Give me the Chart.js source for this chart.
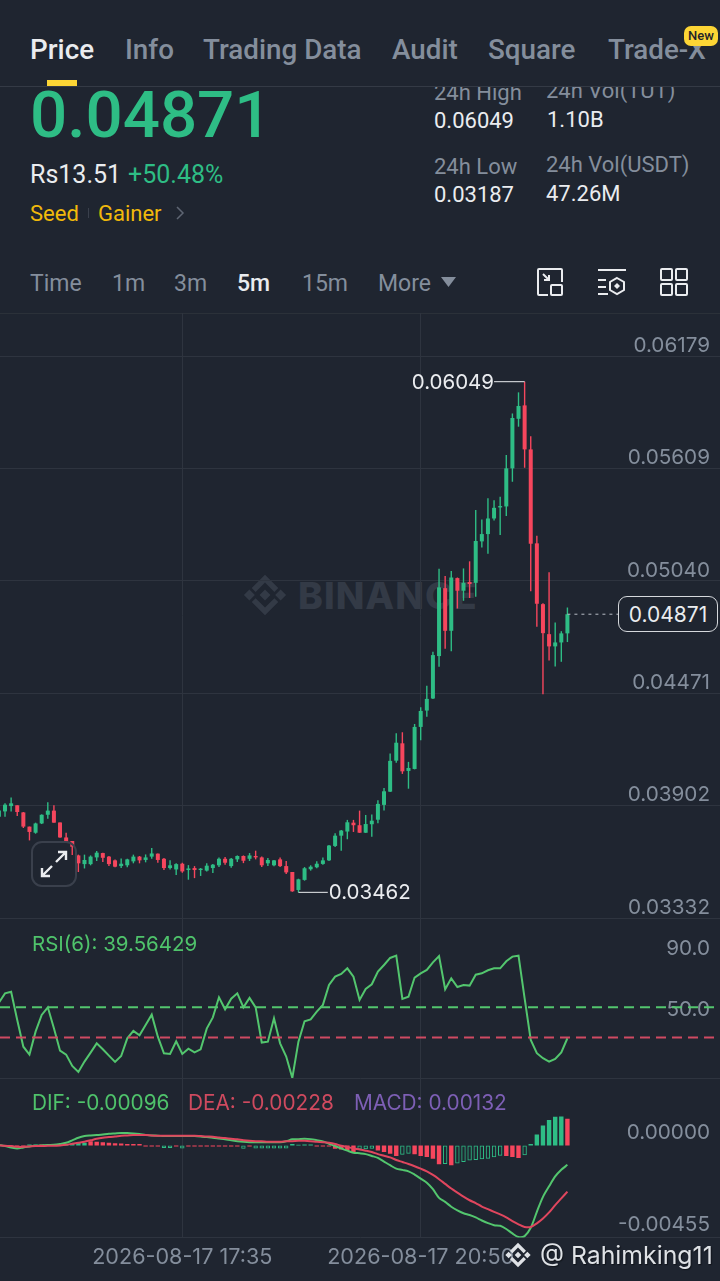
<!DOCTYPE html>
<html>
<head>
<meta charset="utf-8">
<title>TUT/USDT 5m</title>
<script src="https://cdn.jsdelivr.net/npm/chart.js@4/dist/chart.umd.min.js"></script>
<style>
  html, body { margin: 0; padding: 0; background: #1f2530; }
  body { position: relative; width: 720px; height: 1281px; overflow: hidden; font-family: Roboto, sans-serif; }
  canvas { position: absolute; left: 0; display: block; }
  .t { position: absolute; white-space: nowrap; line-height: 1; transform: translateY(-50%); }
  .abs { position: absolute; }
  .gray { color: #848e9c; }
  .white { color: #eaecef; }
  .up { color: #2ebd85; }
  .gold { color: #f0b90b; }
  .inter { font-family: Inter, sans-serif; }
  #topbar { position: absolute; left: 0; top: 0; width: 720px; height: 86px; background: #1f2530; border-bottom: 1px solid #343a45; z-index: 3; }
  #topbar .t { font-size: 27.8px; font-weight: 500; }
  .stat { font-size: 22px; }
  .tf { font-size: 23px; }
  #pill { position: absolute; left: 618px; top: 596px; width: 100px; height: 36px; box-sizing: border-box; border: 1px solid #d5d8dc; border-radius: 9px; background: #1f2530; color: #eaecef; font: 21px Inter, sans-serif; line-height: 35px; text-align: center; z-index: 4; }
  #mark { position: absolute; left: 240px; top: 570px; height: 50px; }
  #markText { position: absolute; left: 298px; top: 595px; font: 800 37.5px Inter, sans-serif; letter-spacing: 1px; color: #333a46; }
  #expand { position: absolute; left: 31px; top: 841px; width: 46px; height: 46px; box-sizing: border-box; border: 2px solid #3a404c; border-radius: 11px; z-index: 4; }
  #credit { position: absolute; left: 540px; top: 1255px; font: 24.8px Inter, sans-serif; color: #dfe2e6; text-shadow: 1px 1px 1px #10141a; transform: translateY(-50%); line-height: 1; z-index: 4; white-space: nowrap; }
</style>
</head>
<body>

<div id="topbar">
  <span class="t white" style="left:30px;top:50px">Price</span>
  <span class="t gray" style="left:125px;top:50px">Info</span>
  <span class="t gray" style="left:203px;top:50px">Trading Data</span>
  <span class="t gray" style="left:392px;top:50px">Audit</span>
  <span class="t gray" style="left:488px;top:50px">Square</span>
  <span class="t gray" style="left:608px;top:50px">Trade-X</span>
  <span class="abs" style="left:684px;top:26px;width:34px;height:20px;border-radius:7px;background:#fcd535;color:#1e2329;font:500 13px/20px Roboto,sans-serif;text-align:center">New</span>
  <span class="abs" style="left:47px;top:80px;width:30px;height:6px;background:#fcd535"></span>
</div>

<span class="t up" style="left:30px;top:115px;font-size:65.5px;font-weight:500">0.04871</span>
<span class="t white" style="left:30px;top:174px;font-size:25px">Rs13.51</span>
<span class="t up" style="left:128px;top:174px;font-size:25px">+50.48%</span>
<span class="t gold" style="left:30px;top:214px;font-size:22px">Seed</span>
<span class="abs" style="left:88px;top:208px;width:1px;height:10px;background:#3a404c"></span>
<span class="t gold" style="left:98px;top:214px;font-size:22px">Gainer</span>
<svg class="abs" style="left:175px;top:205px" width="10" height="16"><path d="M2 2l6 6-6 6" fill="none" stroke="#5e6673" stroke-width="1.5"/></svg>

<span class="t gray stat" style="left:434px;top:93px">24h High</span>
<span class="t white stat" style="left:434px;top:121px">0.06049</span>
<span class="t gray stat" style="left:434px;top:167px">24h Low</span>
<span class="t white stat" style="left:434px;top:195px">0.03187</span>
<span class="t gray stat" style="left:546px;top:91px">24h Vol(TUT)</span>
<span class="t white stat" style="left:547px;top:120px">1.10B</span>
<span class="t gray stat" style="left:546px;top:165px">24h Vol(USDT)</span>
<span class="t white stat" style="left:546px;top:194px">47.26M</span>

<span class="t gray tf" style="left:30px;top:283px">Time</span>
<span class="t gray tf" style="left:112px;top:283px">1m</span>
<span class="t gray tf" style="left:174px;top:283px">3m</span>
<span class="t white tf" style="left:237px;top:283px;font-weight:500">5m</span>
<span class="t gray tf" style="left:302px;top:283px">15m</span>
<span class="t gray tf" style="left:378px;top:283px">More</span>
<svg class="abs" style="left:441px;top:277px" width="15" height="10"><path d="M0 0h15l-7.5 10z" fill="#848e9c"/></svg>

<svg class="abs" style="left:536px;top:267px" width="152" height="30" fill="none" stroke="#eaecef" stroke-width="2">
  <path d="M12 2H3a1 1 0 0 0-1 1v24a1 1 0 0 0 1 1h9M12 2h13a1 1 0 0 1 1 1v12M7 7l6 6M13 8v5H8"/>
  <rect x="15" y="18" width="11" height="10" rx="1"/>
  <path d="M62 3h28M62 13h8M62 20h8M62 27h10M81 11l7 4v8l-7 4-7-4v-8z"/>
  <path d="M81 16l3 3-3 3-3-3z" fill="#eaecef" stroke="none"/>
  <rect x="125" y="2" width="11" height="11" rx="1"/><rect x="140" y="2" width="11" height="11" rx="1"/>
  <rect x="125" y="17" width="11" height="11" rx="1"/><rect x="140" y="17" width="11" height="11" rx="1"/>
</svg>

<div class="abs" style="left:0;top:313px;width:720px;height:1px;background:#2b3139"></div>

<svg id="mark" viewBox="0 0 32 32" width="50" height="50"><path fill="#333a46" d="M16 12.5L19.5 16 16 19.5 12.5 16zM6 12.5L9.5 16 6 19.5 2.5 16zM26 12.5L29.5 16 26 19.5 22.5 16zM16 3L24.5 11.5 22 14 16 8 10 14 7.5 11.5zM16 29L24.5 20.5 22 18 16 24 10 18 7.5 20.5z"/></svg>
<div id="markText" class="t">BINANCE</div>

<canvas id="priceChart" width="720" height="606" style="top:313px"></canvas>
<canvas id="rsiChart" width="720" height="161" style="top:918px"></canvas>
<canvas id="macdChart" width="720" height="203" style="top:1078px"></canvas>

<div id="pill">0.04871</div>
<div id="expand">
  <svg width="42" height="42" fill="none" stroke="#eaecef" stroke-width="2.4"><path d="M9 33L19 23M9 25v8h8M33 9L23 19M25 9h8v8"/></svg>
</div>

<span class="t inter" style="left:32px;top:944px;font-size:20.5px;color:#4fc36b;z-index:4">RSI(6): 39.56429</span>
<span class="t inter" style="left:32px;top:1103px;font-size:20.8px;color:#4fc36b;z-index:4">DIF: -0.00096</span>
<span class="t inter" style="left:188px;top:1103px;font-size:20.8px;color:#cf4a5f;z-index:4">DEA: -0.00228</span>
<span class="t inter" style="left:354px;top:1103px;font-size:20.8px;color:#7d5fb5;z-index:4">MACD: 0.00132</span>

<svg class="abs" style="left:503px;top:1240px;z-index:4" viewBox="0 0 32 32" width="30" height="30"><path fill="#dfe2e6" d="M16 12.5L19.5 16 16 19.5 12.5 16zM6 12.5L9.5 16 6 19.5 2.5 16zM26 12.5L29.5 16 26 19.5 22.5 16zM16 3L24.5 11.5 22 14 16 8 10 14 7.5 11.5zM16 29L24.5 20.5 22 18 16 24 10 18 7.5 20.5z"/></svg>
<div id="credit">@ Rahimking11</div>

<script>
// Velas de 5m, indices 0..93
const candleOpen = [
  0.03845,0.03872,0.03899,0.03903,0.03867,0.03795,0.03764,0.03811,0.03855,0.03876,
  0.03816,0.03740,0.03722,0.03649,0.03605,0.03605,0.03639,0.03661,0.03643,0.03624,
  0.03595,0.03599,0.03619,0.03643,0.03626,0.03643,0.03658,0.03632,0.03585,0.03578,
  0.03607,0.03575,0.03585,0.03575,0.03572,0.03585,0.03599,0.03632,0.03595,0.03629,
  0.03646,0.03632,0.03646,0.03639,0.03609,0.03599,0.03629,0.03595,0.03565,0.03474,
  0.03525,0.03579,0.03589,0.03606,0.03624,0.03697,0.03749,0.03770,0.03815,0.03802,
  0.03764,0.03807,0.03830,0.03905,0.03972,0.04129,0.04217,0.04077,0.04087,0.04300,
  0.04383,0.04444,0.04659,0.05003,0.04787,0.05054,0.04990,0.05034,0.05030,0.05240,
  0.05277,0.05356,0.05412,0.05417,0.05610,0.05861,0.05929,0.05706,0.05230,0.04922,
  0.04770,0.04708,0.04728,0.04774
];
const candleHigh = [
  0.03882,0.03913,0.03943,0.03903,0.03869,0.03795,0.03815,0.03857,0.03918,0.03903,
  0.03816,0.03764,0.03722,0.03653,0.03653,0.03649,0.03671,0.03663,0.03646,0.03629,
  0.03634,0.03632,0.03653,0.03646,0.03654,0.03686,0.03659,0.03636,0.03624,0.03609,
  0.03612,0.03600,0.03595,0.03585,0.03609,0.03605,0.03639,0.03641,0.03636,0.03649,
  0.03649,0.03661,0.03673,0.03643,0.03636,0.03626,0.03639,0.03621,0.03565,0.03531,
  0.03590,0.03599,0.03619,0.03638,0.03702,0.03761,0.03778,0.03829,0.03829,0.03876,
  0.03854,0.03856,0.03928,0.03991,0.04166,0.04268,0.04273,0.04123,0.04315,0.04400,
  0.04508,0.04681,0.05101,0.05064,0.05090,0.05057,0.05103,0.05139,0.05399,0.05351,
  0.05458,0.05449,0.05466,0.05677,0.05888,0.05995,0.06049,0.05772,0.05269,0.04926,
  0.05084,0.04829,0.04785,0.04905
];
const candleLow = [
  0.03838,0.03845,0.03872,0.03849,0.03788,0.03725,0.03759,0.03808,0.03835,0.03815,
  0.03739,0.03715,0.03651,0.03565,0.03583,0.03599,0.03621,0.03616,0.03595,0.03589,
  0.03585,0.03589,0.03609,0.03609,0.03614,0.03632,0.03612,0.03575,0.03578,0.03550,
  0.03561,0.03526,0.03534,0.03545,0.03568,0.03560,0.03590,0.03602,0.03587,0.03616,
  0.03610,0.03621,0.03629,0.03590,0.03595,0.03594,0.03590,0.03555,0.03465,0.03462,
  0.03521,0.03572,0.03584,0.03602,0.03621,0.03692,0.03673,0.03731,0.03768,0.03763,
  0.03763,0.03744,0.03812,0.03876,0.03970,0.04119,0.04062,0.03987,0.04085,0.04232,
  0.04352,0.04441,0.04605,0.04696,0.04683,0.04900,0.04939,0.04953,0.04959,0.05209,
  0.05177,0.05346,0.05272,0.05368,0.05542,0.05821,0.05613,0.04987,0.04807,0.04465,
  0.04637,0.04606,0.04630,0.04730
];
const candleClose = [
  0.03876,0.03906,0.03913,0.03869,0.03795,0.03768,0.03811,0.03855,0.03876,0.03815,
  0.03740,0.03719,0.03693,0.03609,0.03626,0.03643,0.03663,0.03637,0.03605,0.03592,
  0.03607,0.03629,0.03643,0.03624,0.03639,0.03659,0.03626,0.03585,0.03599,0.03605,
  0.03568,0.03583,0.03575,0.03582,0.03597,0.03602,0.03632,0.03612,0.03632,0.03646,
  0.03622,0.03649,0.03639,0.03599,0.03626,0.03624,0.03595,0.03563,0.03467,0.03528,
  0.03584,0.03592,0.03607,0.03624,0.03699,0.03749,0.03775,0.03817,0.03802,0.03764,
  0.03808,0.03825,0.03910,0.03974,0.04128,0.04220,0.04075,0.04092,0.04300,0.04381,
  0.04442,0.04664,0.05007,0.04787,0.05057,0.04990,0.05030,0.05024,0.05242,0.05277,
  0.05356,0.05410,0.05419,0.05610,0.05865,0.05926,0.05706,0.05228,0.04924,0.04775,
  0.04708,0.04728,0.04774,0.04871
];
const rsiValues = [
  63.0,69.1,70.2,51.6,34.0,28.8,43.9,54.9,59.9,46.1,
  31.4,28.8,21.3,17.4,24.2,30.1,36.2,32.3,28.1,24.0,
  27.9,39.5,44.4,41.5,48.3,55.1,40.6,29.7,29.2,37.6,
  29.2,32.7,30.3,32.3,45.9,53.3,66.5,58.6,65.6,69.1,
  59.9,66.1,59.9,36.7,37.3,52.7,36.2,27.5,13.4,37.3,
  50.7,52.0,57.1,61.5,74.6,80.1,81.9,85.6,80.1,64.8,
  72.0,75.1,83.4,87.8,92.4,93.9,65.4,66.9,79.5,82.3,
  84.5,89.5,93.7,71.8,79.0,73.3,74.6,74.2,81.4,82.3,
  84.3,85.6,85.6,90.2,93.3,93.9,65.8,38.4,29.7,26.4,
  24.2,26.0,30.3,39.56429
];
const difValues = [
  0.00002,-0.00003,-0.00010,-0.00015,-0.00010,-0.00005,-0.00002,0,0.00002,0.00003,
  0.00007,0.00013,0.00025,0.00038,0.00046,0.00049,0.00051,0.00054,0.00057,0.00059,
  0.00061,0.00061,0.00059,0.00056,0.00052,0.00049,0.00048,0.00046,0.00046,0.00046,
  0.00046,0.00046,0.00046,0.00044,0.00041,0.00038,0.00034,0.00030,0.00025,0.00021,
  0.00018,0.00016,0.00016,0.00016,0.00016,0.00016,0.00016,0.00021,0.00030,0.00031,
  0.00033,0.00031,0.00026,0.00020,0.00008,-0.00003,-0.00015,-0.00026,-0.00036,-0.00039,
  -0.00043,-0.00052,-0.00062,-0.00080,-0.00098,-0.00115,-0.00121,-0.00128,-0.00144,-0.00164,
  -0.00184,-0.00216,-0.00259,-0.00279,-0.00303,-0.00321,-0.00335,-0.00344,-0.00356,-0.00371,
  -0.00384,-0.00394,-0.00397,-0.00413,-0.00435,-0.00453,-0.00448,-0.00407,-0.00328,-0.00254,
  -0.00202,-0.00153,-0.00120,-0.00096
];
const deaValues = [
  0,-0.00002,-0.00003,-0.00007,-0.00007,-0.00005,-0.00003,-0.00003,-0.00002,-0.00002,
  0,0.00003,0.00008,0.00013,0.00018,0.00025,0.00033,0.00038,0.00041,0.00044,
  0.00048,0.00049,0.00051,0.00051,0.00051,0.00049,0.00048,0.00048,0.00048,0.00048,
  0.00048,0.00048,0.00048,0.00046,0.00044,0.00043,0.00039,0.00036,0.00033,0.00030,
  0.00026,0.00023,0.00021,0.00020,0.00018,0.00018,0.00018,0.00020,0.00021,0.00023,
  0.00023,0.00021,0.00018,0.00016,0.00013,0.00007,-0.00002,-0.00008,-0.00015,-0.00020,
  -0.00026,-0.00033,-0.00043,-0.00051,-0.00059,-0.00072,-0.00082,-0.00092,-0.00103,-0.00115,
  -0.00128,-0.00146,-0.00167,-0.00190,-0.00213,-0.00233,-0.00253,-0.00271,-0.00285,-0.00302,
  -0.00315,-0.00328,-0.00341,-0.00356,-0.00374,-0.00390,-0.00403,-0.00403,-0.00385,-0.00361,
  -0.00331,-0.00295,-0.00262,-0.00228
];
const macdHist = [
  -0.00003,-0.00003,-0.00003,-0.00003,-0.00003,0.00005,0.00005,0.00005,0.00003,0.00003,
  0.00005,0.00007,0.00010,0.00015,0.00013,0.00020,0.00018,0.00015,0.00013,0.00011,
  0.00010,0.00007,0.00007,0.00007,-0.00005,-0.00005,-0.00005,-0.00013,-0.00013,-0.00005,
  -0.00015,-0.00005,-0.00005,-0.00005,-0.00005,-0.00005,-0.00005,-0.00005,-0.00005,-0.00005,
  -0.00016,-0.00005,-0.00015,-0.00015,-0.00015,-0.00015,-0.00015,-0.00015,0.00007,0.00003,
  0.00005,0.00005,-0.00005,-0.00005,-0.00005,-0.00016,-0.00020,-0.00025,-0.00033,-0.00020,
  -0.00019,-0.00016,-0.00025,-0.00033,-0.00041,-0.00052,-0.00046,-0.00041,-0.00044,-0.00052,
  -0.00057,-0.00066,-0.00093,-0.00092,-0.00098,-0.00090,-0.00082,-0.00075,-0.00072,-0.00069,
  -0.00066,-0.00059,-0.00051,-0.00052,-0.00057,-0.00062,-0.00049,0.00007,0.00054,0.00098,
  0.00125,0.00141,0.00143,0.00132
];
// 1 = barra verde, 0 = barra roja
const macdRising = [
  0,0,0,0,0,1,1,0,1,1,
  1,1,1,1,1,0,0,0,0,0,
  0,0,0,0,0,0,0,1,1,0,
  1,0,0,0,0,0,0,0,0,0,
  1,0,1,1,1,1,1,1,1,1,
  1,1,0,0,0,0,0,0,0,1,
  1,1,0,0,0,0,1,1,0,0,
  0,0,0,1,0,1,1,1,1,1,
  1,1,1,0,0,0,1,1,1,1,
  1,1,1,0
];
const priceTicks = [0.06179, 0.05609, 0.05040, 0.04471, 0.03902, 0.03332];
const rsiTicks = [90, 50];
const rsiBands = [60, 40];
const macdTicks = [0, -0.00455];
const timeTickIndex = [30, 69];
const timeTickLabels = ['2026-08-17 17:35', '2026-08-17 20:50'];
const highMark = { index: 86, value: 0.06049, toIndex: 81 };
const lowMark = { index: 49, value: 0.03462, toIndex: 53.8 };
const lastPriceEnd = 101.3;

const UP = '#2ebd85';
const DOWN = '#f6465d';
const GRID = '#2e343f';
const TICK = '#848e9c';
const X_MIN = 0.18;
const X_MAX = 117.96;

Chart.defaults.font.family = 'Inter, sans-serif';
Chart.defaults.animation = false;

const indexes = candleOpen.map((_, i) => i);
const candleColors = indexes.map(i => candleClose[i] >= candleOpen[i] ? UP : DOWN);

function xAxis(extra) {
  return Object.assign({
    type: 'linear',
    offset: false,
    min: X_MIN,
    max: X_MAX,
    afterBuildTicks: s => { s.ticks = timeTickIndex.map(v => ({ value: v })); },
    afterFit: s => { s.paddingLeft = 0; s.paddingRight = 0; s.height = 0; },
    grid: { color: GRID, drawTicks: false, offset: false },
    border: { display: true, color: GRID },
    ticks: { display: false, autoSkip: false, maxRotation: 0 }
  }, extra);
}

function yAxis(min, max, list, decimals, offset, drawGrid) {
  return {
    position: 'right',
    min: min,
    max: max,
    afterBuildTicks: s => { s.ticks = list.map(v => ({ value: v })); },
    afterFit: s => { s.paddingTop = 0; s.paddingBottom = 0; s.width = 0; },
    grid: { display: drawGrid, color: GRID, drawTicks: false },
    border: { display: false },
    ticks: {
      mirror: true,
      padding: -10,
      autoSkip: false,
      labelOffset: offset,
      color: TICK,
      font: { size: 20.7 },
      callback: v => v.toFixed(decimals)
    }
  };
}

// Etiquetas de maximo y minimo junto a su linea
const markLabels = {
  id: 'markLabels',
  afterDatasetsDraw(chart) {
    const { ctx, scales } = chart;
    ctx.save();
    ctx.font = '20.5px Inter, sans-serif';
    ctx.fillStyle = '#eaecef';
    ctx.textBaseline = 'middle';
    ctx.textAlign = 'right';
    ctx.fillText(highMark.value.toFixed(5), scales.x.getPixelForValue(highMark.toIndex), scales.y.getPixelForValue(highMark.value) + 1);
    ctx.textAlign = 'left';
    ctx.fillText(lowMark.value.toFixed(5), scales.x.getPixelForValue(lowMark.toIndex) + 1, scales.y.getPixelForValue(lowMark.value) + 1);
    ctx.restore();
  }
};

new Chart(document.getElementById('priceChart'), {
  type: 'bar',
  plugins: [markLabels],
  data: {
    datasets: [
      {
        data: indexes.map(i => ({ x: i, y: [candleLow[i], candleHigh[i]] })),
        backgroundColor: candleColors,
        maxBarThickness: 1.4,
        grouped: false,
        order: 2
      },
      {
        data: indexes.map(i => ({ x: i, y: [candleOpen[i], candleClose[i]] })),
        backgroundColor: candleColors,
        maxBarThickness: 4,
        grouped: false,
        order: 1
      },
      {
        type: 'line',
        data: [{ x: highMark.index, y: highMark.value }, { x: highMark.toIndex, y: highMark.value }],
        borderColor: '#eaecef', borderWidth: 1, pointRadius: 0, order: 0
      },
      {
        type: 'line',
        data: [{ x: lowMark.index, y: lowMark.value }, { x: lowMark.toIndex, y: lowMark.value }],
        borderColor: '#eaecef', borderWidth: 1, pointRadius: 0, order: 0
      },
      {
        type: 'line',
        data: [{ x: 93, y: candleClose[93] }, { x: lastPriceEnd, y: candleClose[93] }],
        borderColor: '#b7bdc6', borderWidth: 1, borderDash: [3, 4], pointRadius: 0, order: 0
      }
    ]
  },
  options: {
    responsive: false,
    layout: { padding: { bottom: 1 } },
    plugins: { legend: { display: false }, tooltip: { enabled: false } },
    scales: {
      x: xAxis({ border: { display: false } }),
      y: yAxis(0.03332, 0.06397, priceTicks, 5, -10.5, true)
    }
  }
});

new Chart(document.getElementById('rsiChart'), {
  type: 'line',
  data: {
    datasets: [
      {
        data: [{ x: X_MIN, y: rsiBands[0] }, { x: X_MAX, y: rsiBands[0] }],
        borderColor: '#53c66e', borderWidth: 2, borderDash: [10, 6], pointRadius: 0
      },
      {
        data: [{ x: X_MIN, y: rsiBands[1] }, { x: X_MAX, y: rsiBands[1] }],
        borderColor: '#cf4a62', borderWidth: 2, borderDash: [10, 6], pointRadius: 0
      },
      {
        data: indexes.map(i => ({ x: i, y: rsiValues[i] })),
        borderColor: '#53c66e', borderWidth: 2, pointRadius: 0
      }
    ]
  },
  options: {
    responsive: false,
    layout: { padding: { bottom: 1 } },
    plugins: { legend: { display: false }, tooltip: { enabled: false } },
    scales: {
      x: xAxis(),
      y: yAxis(13.4, 118.7, rsiTicks, 1, -12.5, false)
    }
  }
});

new Chart(document.getElementById('macdChart'), {
  type: 'bar',
  data: {
    datasets: [
      {
        type: 'line',
        data: indexes.map(i => ({ x: i, y: deaValues[i] })),
        borderColor: '#e0465e', borderWidth: 2, pointRadius: 0, tension: 0.3, order: 0
      },
      {
        type: 'line',
        data: indexes.map(i => ({ x: i, y: difValues[i] })),
        borderColor: '#53c66e', borderWidth: 2, pointRadius: 0, tension: 0.3, order: 1
      },
      {
        data: indexes.map(i => ({ x: i, y: macdHist[i] })),
        // verde hueco si sube por debajo de cero, relleno en el resto
        backgroundColor: indexes.map(i => macdRising[i] ? (macdHist[i] < 0 ? 'rgba(0,0,0,0)' : UP) : DOWN),
        borderColor: UP,
        borderWidth: indexes.map(i => macdRising[i] && macdHist[i] < 0 ? 1 : 0),
        borderSkipped: false,
        maxBarThickness: 4.4,
        grouped: false,
        order: 2
      }
    ]
  },
  options: {
    responsive: false,
    plugins: { legend: { display: false }, tooltip: { enabled: false } },
    scales: {
      x: xAxis({
        afterFit: s => { s.paddingLeft = 0; s.paddingRight = 0; s.height = 43.5; },
        ticks: {
          autoSkip: false,
          maxRotation: 0,
          padding: 7,
          color: TICK,
          font: { size: 21.6 },
          callback: v => timeTickLabels[timeTickIndex.indexOf(v)]
        }
      }),
      y: yAxis(-0.00455, 0.00333, macdTicks, 5, -13, false)
    }
  }
});
</script>
</body>
</html>
